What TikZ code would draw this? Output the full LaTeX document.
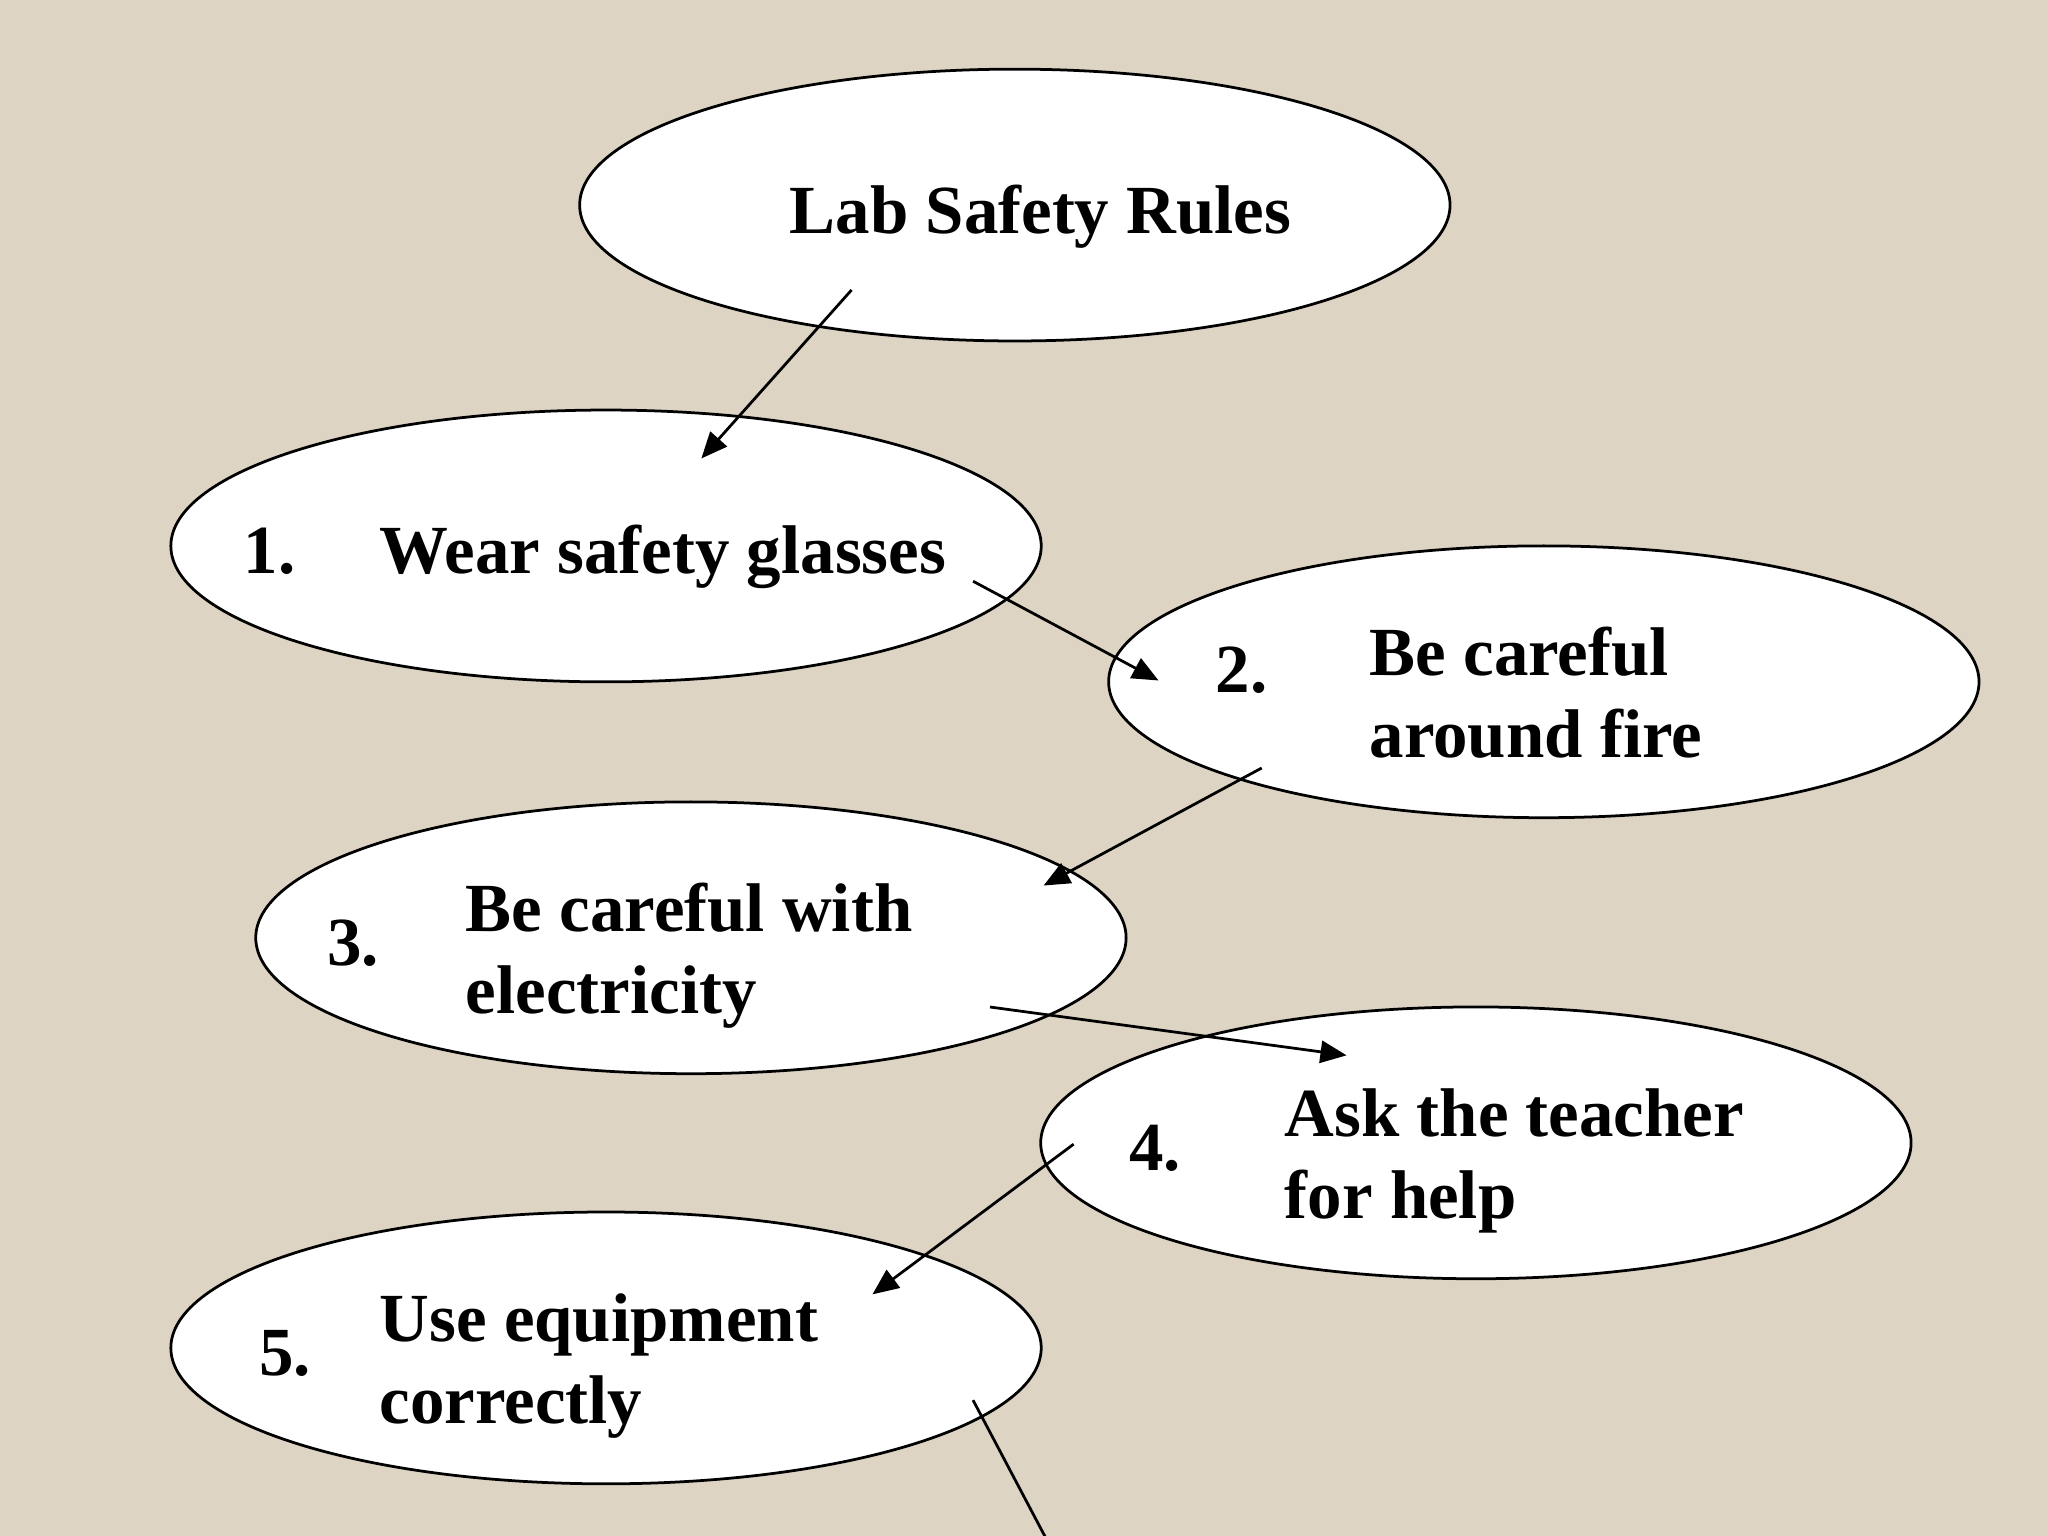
\documentclass[tikz,border=0pt]{standalone}
\usepackage{fontspec}
\setmainfont{Liberation Serif}
\usetikzlibrary{shapes.geometric,arrows.meta}
\definecolor{bg}{HTML}{DDD4C4}
\tikzset{
  oval/.style={ellipse,draw=black,fill=white,line width=0.6pt,minimum width=6.66cm,minimum height=2.08cm},
  txt/.style={anchor=base west,inner sep=0pt,font=\fontsize{15}{18}\selectfont\bfseries},
  conn/.style={line width=0.6pt,-{Triangle[length=0.2cm,width=0.17cm]}}
}
\begin{document}
\begin{tikzpicture}[x=0.01cm,y=-0.01cm]
\fill[bg] (0,0) rectangle (1568,1176);
\useasboundingbox (0,0) rectangle (1568,1176);
\node[oval] (e0) at (777,157) {};
\node[oval] (e1) at (464,418) {};
\node[oval] (e2) at (1182,522) {};
\node[oval] (e3) at (529,718) {};
\node[oval] (e4) at (1130,875) {};
\node[oval] (e5) at (464,1032) {};
\node[txt] (t0) at (604,179) {Lab Safety Rules};
\node[txt] (n1) at (186,439) {1.};
\node[txt] (t1) at (290,439) {Wear safety glasses};
\node[txt] (n2) at (930,530) {2.};
\node[txt] (t2a) at (1048,517) {Be careful};
\node[txt] (t2b) at (1048,580) {around fire};
\node[txt] (n3) at (250,739) {3.};
\node[txt] (t3a) at (356,713) {Be careful with};
\node[txt] (t3b) at (356,776) {electricity};
\node[txt] (n4) at (864,896) {4.};
\node[txt] (t4a) at (983,870) {Ask the teacher};
\node[txt] (t4b) at (983,933) {for help};
\node[txt] (n5) at (198,1053) {5.};
\node[txt] (t5a) at (290,1027) {Use equipment};
\node[txt] (t5b) at (290,1090) {correctly};
\coordinate (a0) at (652,222); \coordinate (b0) at (537,351);
\coordinate (a1) at (745,445); \coordinate (b1) at (887,521);
\coordinate (a2) at (966,588); \coordinate (b2) at (799,678);
\coordinate (a3) at (758,771); \coordinate (b3) at (1031,808);
\coordinate (a4) at (822,876); \coordinate (b4) at (668,991);
\coordinate (a5) at (745,1072); \coordinate (b5) at (802,1180);
\draw[conn] (a0) -- (b0);
\draw[conn] (a1) -- (b1);
\draw[conn] (a2) -- (b2);
\draw[conn] (a3) -- (b3);
\draw[conn] (a4) -- (b4);
\draw[line width=0.6pt] (a5) -- (b5);
\end{tikzpicture}
\end{document}
